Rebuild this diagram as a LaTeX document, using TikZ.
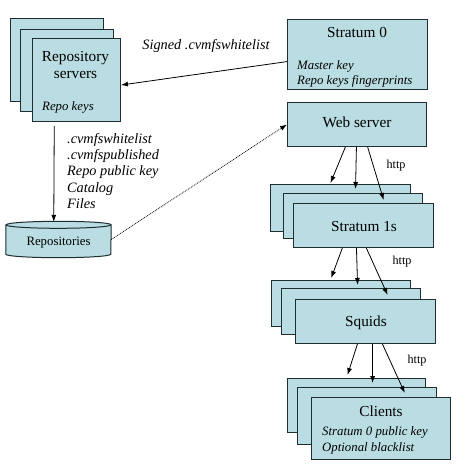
\documentclass[tikz,border=0pt]{standalone}
\usepackage{fontspec}
\setmainfont{LiberationSerif}[Extension=.ttf,UprightFont=*-Regular,ItalicFont=*-Italic,BoldFont=*-Bold,BoldItalicFont=*-BoldItalic]
\usetikzlibrary{calc,arrows.meta}
\definecolor{boxfill}{RGB}{185,221,226}
\definecolor{boxline}{RGB}{30,45,48}
\begin{document}
\begin{tikzpicture}[x=1pt,y=-1pt,
  box/.style={draw=boxline,fill=boxfill,line width=1pt,inner sep=0pt,anchor=north west},
  title/.style={font=\rmfamily\fontsize{15.3}{17}\selectfont,inner sep=0pt,align=center},
  note/.style={font=\rmfamily\fontsize{12.8}{15.5}\selectfont\itshape,inner sep=0pt,align=left,anchor=west},
  elabel/.style={font=\rmfamily\fontsize{14.3}{16}\selectfont\itshape,inner sep=0pt,align=left},
  httpl/.style={font=\rmfamily\fontsize{12.2}{14}\selectfont,inner sep=0pt},
  arr/.style={line width=0.8pt,-{Latex[length=7pt,width=5pt]}}]
\useasboundingbox[fill=white] (0,0) rectangle (474,474);

% Repository servers
\node[box,minimum width=93pt,minimum height=83pt] (rs1) at (10,18) {};
\node[box,minimum width=93pt,minimum height=82pt] (rs2) at (20,29) {};
\node[box,minimum width=88pt,minimum height=83pt] (rs3) at (32,38) {};
\node[title] (rstxt) at (75.5,65.5) {Repository\\servers};
\node[note] (rskeys) at (42,107) {Repo keys};

% Stratum 0
\node[box,minimum width=140pt,minimum height=70pt] (s0) at (287,19) {};
\node[title] (s0txt) at (357,32) {Stratum 0};
\node[note] (s0notes) at (297,74) {Master key\\Repo keys fingerprints};

% Web server
\node[box,minimum width=139pt,minimum height=44pt] (web) at (287,102) {};
\node[title] (webtxt) at (357,122) {Web server};

% Stratum 1s
\node[box,minimum width=140pt,minimum height=47pt] (s1a) at (270,184) {};
\node[box,minimum width=139pt,minimum height=45pt] (s1b) at (283,193) {};
\node[box,minimum width=140pt,minimum height=44pt] (s1c) at (293,203) {};
\node[title] (s1txt) at (364,227) {Stratum 1s};

% Squids
\node[box,minimum width=139pt,minimum height=46pt] (sqa) at (271,280) {};
\node[box,minimum width=139pt,minimum height=46pt] (sqb) at (281,288) {};
\node[box,minimum width=140pt,minimum height=44pt] (sqc) at (295,299) {};
\node[title] (sqtxt) at (366,323) {Squids};

% Clients
\node[box,minimum width=138pt,minimum height=54pt] (cla) at (287,378) {};
\node[box,minimum width=139pt,minimum height=57pt] (clb) at (297,387) {};
\node[box,minimum width=139pt,minimum height=62pt] (clc) at (311,397) {};
\node[title] (cltxt) at (381,411) {Clients};
\node[note] (clnotes) at (322,440.5) {Stratum 0 public key\\Optional blacklist};

% Repositories cylinder
\node[minimum width=105pt,minimum height=29pt,inner sep=0pt] (repos) at (58.5,239.5) {};
\draw[draw=boxline,fill=boxfill,line width=1pt]
  (repos.north west) -- (repos.south west)
  arc[start angle=180,end angle=360,x radius=52.5pt,y radius=3.5pt]
  -- (repos.north east)
  arc[start angle=0,end angle=180,x radius=52.5pt,y radius=3.5pt] -- cycle;
\draw[draw=boxline,line width=1pt] (repos.north west)
  arc[start angle=180,end angle=360,x radius=52.5pt,y radius=3.5pt];
\node[font=\rmfamily\fontsize{12.8}{15}\selectfont,inner sep=0pt] (repostxt) at (58.5,243) {Repositories};

% Connectors
\draw[arr] ($(s0.north west)!0.6!(s0.south west)$) -- ($(rs3.north east)!0.56!(rs3.south east)$);
\node[elabel] (signed) at (206,46) {Signed .cvmfswhitelist};

\draw[arr] ($(rs3.south west)!0.25!(rs3.south east)+(0,4)$) -- ($(repos.north west)!0.455!(repos.north east)+(0,-3)$);
\node[elabel,anchor=west,font=\rmfamily\fontsize{14.3}{16.2}\selectfont\itshape] (replist) at (67,171)
  {.cvmfswhitelist\\.cvmfspublished\\Repo public key\\Catalog\\Files};

\draw[arr,densely dotted] (repos.east) -- (web.west);

\draw[arr] ($(web.south west)!0.417!(web.south east)$) -- ($(s1a.north west)!0.429!(s1a.north east)+(0,-1)$);
\draw[arr] ($(web.south west)!0.496!(web.south east)$) -- ($(s1b.north west)!0.518!(s1b.north east)+(0,-4)$);
\draw[arr] ($(web.south west)!0.576!(web.south east)$) -- ($(s1c.north west)!0.643!(s1c.north east)+(0,-3)$);
\node[httpl] (http1) at (396,166) {http};

\draw[arr] ($(s1c.south west)!0.35!(s1c.south east)$) -- ($(sqa.north west)!0.43!(sqa.north east)+(0,-2)$);
\draw[arr] ($(s1c.south west)!0.45!(s1c.south east)$) -- ($(sqb.north west)!0.547!(sqb.north east)+(0,-3)$);
\draw[arr] ($(s1c.south west)!0.52!(s1c.south east)$) -- ($(sqc.north west)!0.657!(sqc.north east)+(0,-4)$);
\node[httpl] (http2) at (402,262) {http};

\draw[arr] ($(sqc.south west)!0.443!(sqc.south east)$) -- ($(cla.north west)!0.435!(cla.north east)+(0,-3)$);
\draw[arr] ($(sqc.south west)!0.55!(sqc.south east)$) -- ($(clb.north west)!0.54!(clb.north east)+(0,-4)$);
\draw[arr] ($(sqc.south west)!0.62!(sqc.south east)$) -- ($(clc.north west)!0.67!(clc.north east)+(0,-4)$);
\node[httpl] (http3) at (417,361) {http};
\end{tikzpicture}
\end{document}
